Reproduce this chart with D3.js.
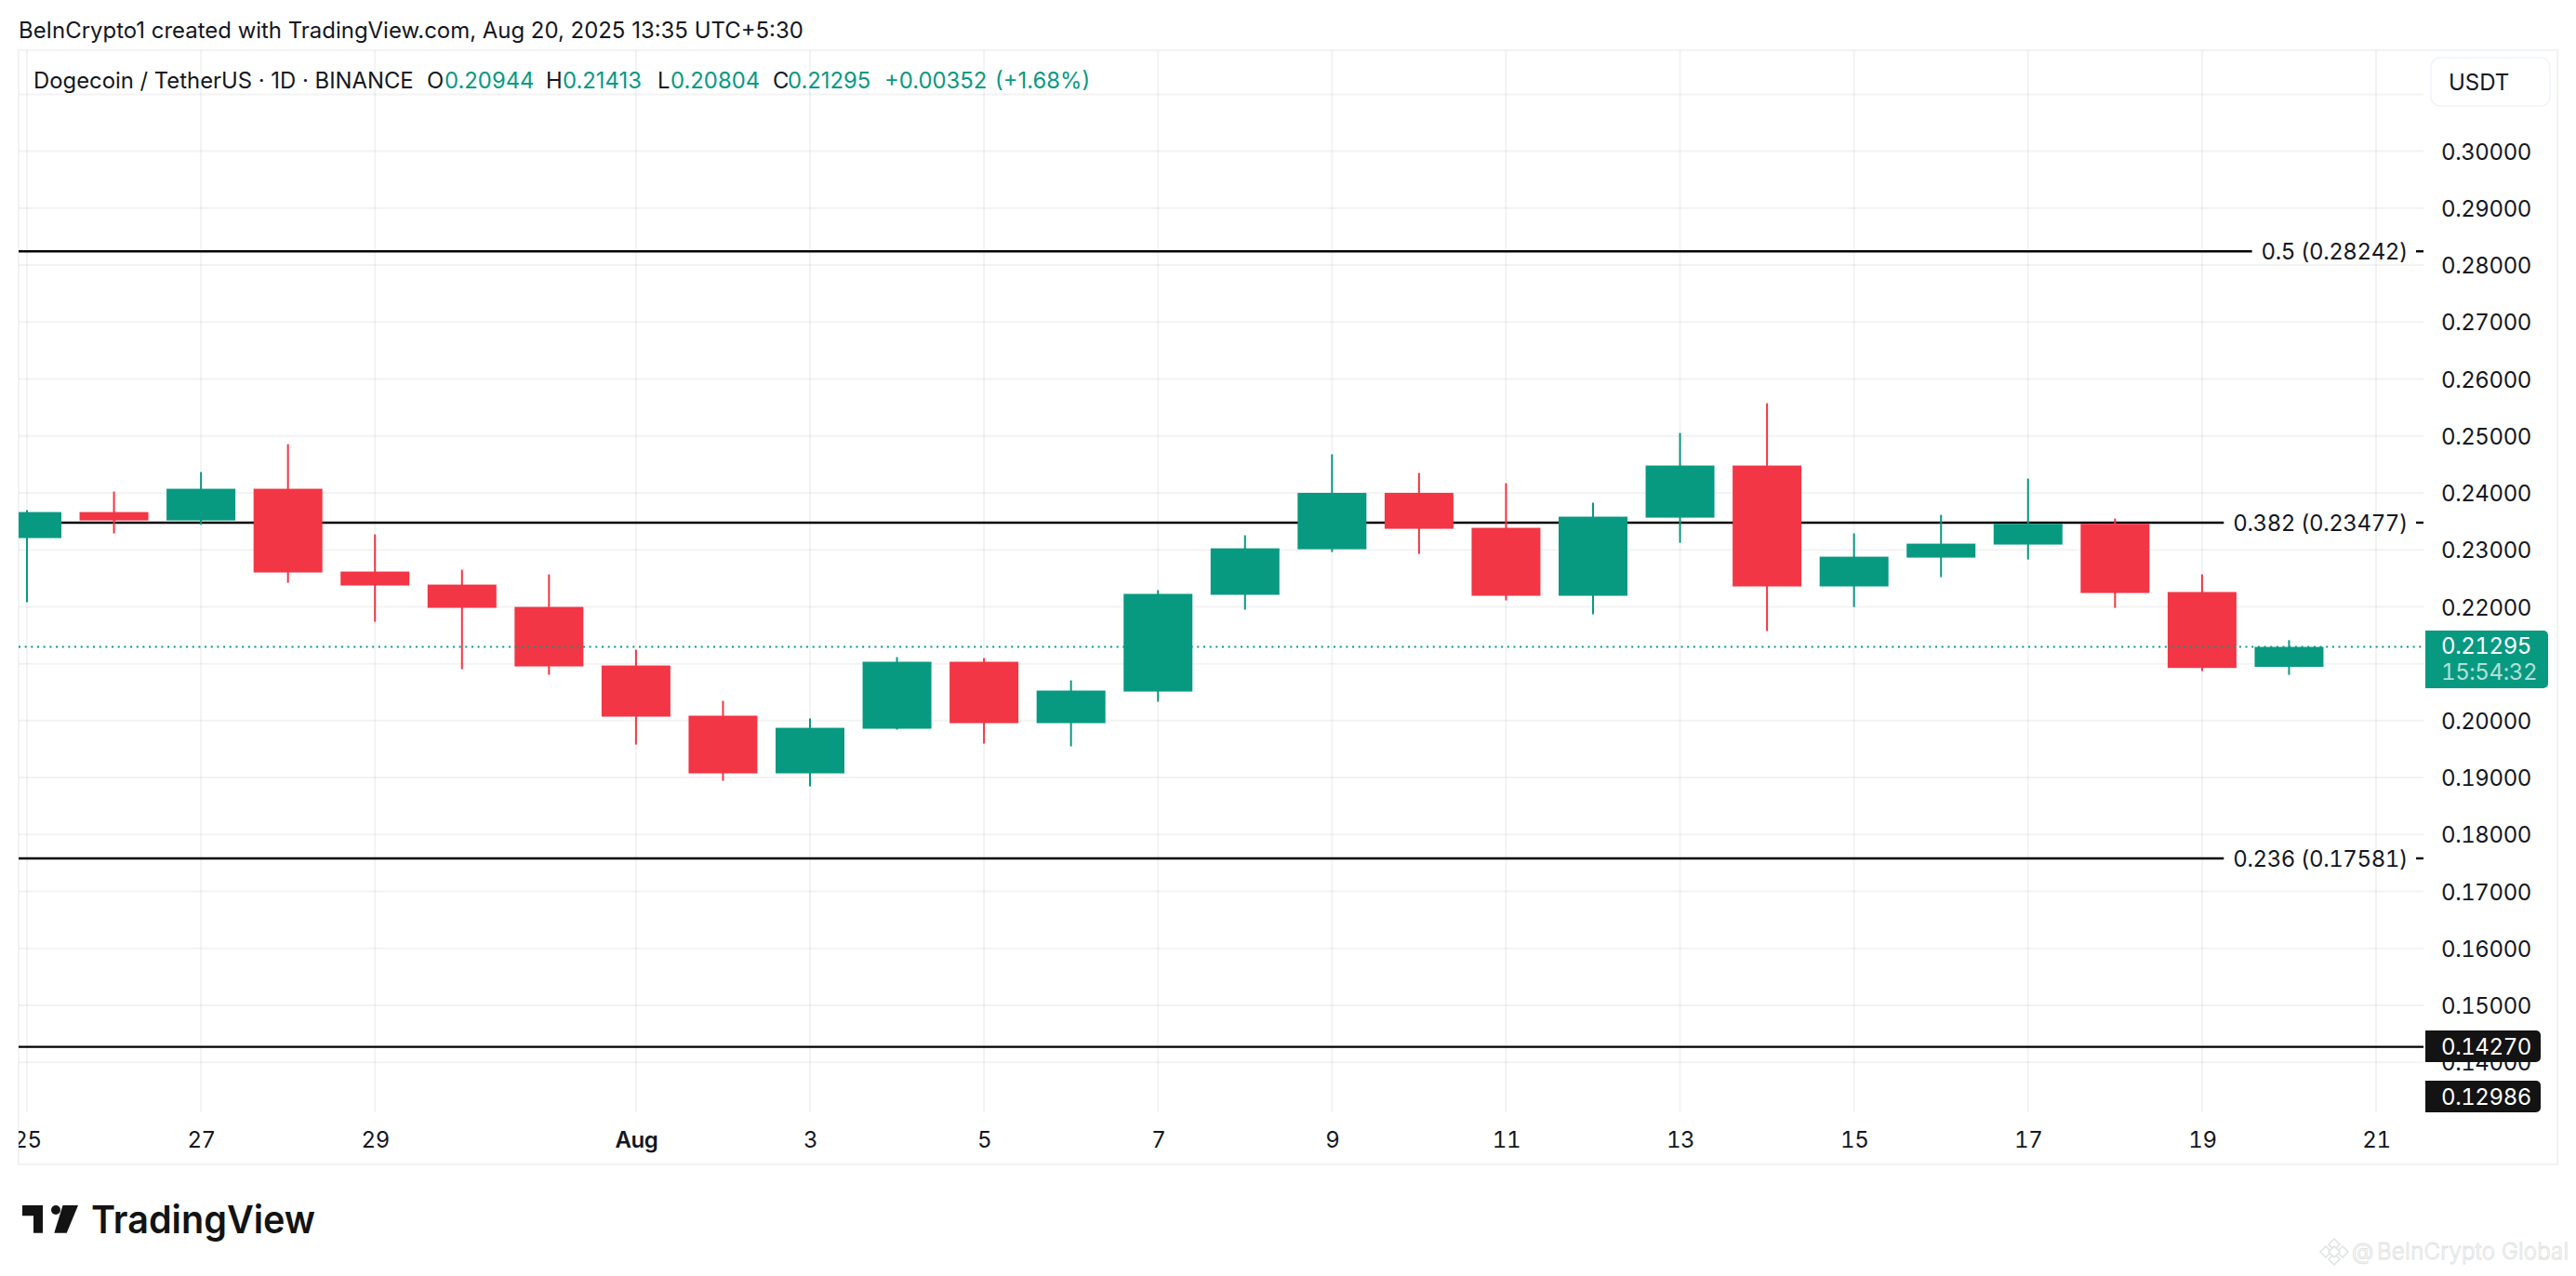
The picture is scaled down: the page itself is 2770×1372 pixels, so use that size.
<!DOCTYPE html>
<html lang="en">

<head>
    <meta charset="UTF-8">
    <title>DOGE / USDT</title>
    <script src="https://cdn.jsdelivr.net/npm/d3@7/dist/d3.min.js"></script>
    <style>
        html, body { margin: 0; padding: 0; background: #fff; }
        svg { display: block; }
        text { font-family: Inter, sans-serif; fill: #131722; }
        .tab { font-variant-numeric: tabular-nums; letter-spacing: -0.4px; }
    </style>
</head>

<body>
    <div id="chart"></div>

    <script>
        // daily candles, Jul 25 -> Aug 20 2025
        const dates = ["2025-07-25", "2025-07-26", "2025-07-27", "2025-07-28", "2025-07-29", "2025-07-30", "2025-07-31",
            "2025-08-01", "2025-08-02", "2025-08-03", "2025-08-04", "2025-08-05", "2025-08-06", "2025-08-07", "2025-08-08",
            "2025-08-09", "2025-08-10", "2025-08-11", "2025-08-12", "2025-08-13", "2025-08-14", "2025-08-15", "2025-08-16",
            "2025-08-17", "2025-08-18", "2025-08-19", "2025-08-20"];
        const opens = [0.23206, 0.23663, 0.23516, 0.24072, 0.22618, 0.22389, 0.21997, 0.20968, 0.20087, 0.19074, 0.19858, 0.21034,
            0.19956, 0.20511, 0.22210, 0.23010, 0.24000, 0.23386, 0.22193, 0.23565, 0.24480, 0.22357, 0.22863, 0.23092, 0.23456,
            0.22259, 0.20944];
        const highs = [0.23696, 0.24023, 0.24366, 0.24855, 0.23271, 0.22651, 0.22569, 0.21246, 0.20348, 0.20038, 0.21115, 0.21099,
            0.20707, 0.22291, 0.23255, 0.24676, 0.24349, 0.24169, 0.23827, 0.25051, 0.25574, 0.23288, 0.23614, 0.24251, 0.23549,
            0.22569, 0.21413];
        const lows = [0.22079, 0.23288, 0.23440, 0.22422, 0.21736, 0.20903, 0.20805, 0.19580, 0.18943, 0.18845, 0.19842, 0.19597,
            0.19548, 0.20332, 0.21948, 0.22961, 0.22928, 0.22112, 0.21867, 0.23124, 0.21573, 0.21997, 0.22520, 0.22830, 0.21981,
            0.20871, 0.20804];
        const closes = [0.23663, 0.23516, 0.24072, 0.22602, 0.22373, 0.21981, 0.20952, 0.20070, 0.19074, 0.19874, 0.21034, 0.19956,
            0.20528, 0.22226, 0.23026, 0.24000, 0.23369, 0.22193, 0.23582, 0.24480, 0.22357, 0.22879, 0.23108, 0.23456, 0.22242,
            0.20925, 0.21295];

        const priceTicks = [0.30, 0.29, 0.28, 0.27, 0.26, 0.25, 0.24, 0.23, 0.22, 0.20, 0.19, 0.18, 0.17, 0.16, 0.15, 0.14];
        const gridPrices = [0.31, 0.30, 0.29, 0.28, 0.27, 0.26, 0.25, 0.24, 0.23, 0.22, 0.21, 0.20, 0.19, 0.18, 0.17, 0.16, 0.15, 0.14];
        const dayTicks = ["2025-07-25", "2025-07-27", "2025-07-29", "2025-08-01", "2025-08-03", "2025-08-05", "2025-08-07",
            "2025-08-09", "2025-08-11", "2025-08-13", "2025-08-15", "2025-08-17", "2025-08-19", "2025-08-21"];

        const fibLevels = [0.28242, 0.23477, 0.17581];
        const fibNames = ["0.5 (0.28242)", "0.382 (0.23477)", "0.236 (0.17581)"];
        const lastPrice = 0.21295;
        const countdown = "15:54:32";
        const supportPrice = 0.14270;
        const bottomPrice = 0.12986;

        const legendParts = [
            ["Dogecoin / TetherUS · 1D · BINANCE", 36, "dark"], ["O", 459, "dark"], ["0.20944", 478, "up"],
            ["H", 587, "dark"], ["0.21413", 605, "up"], ["L", 707, "dark"], ["0.20804", 721, "up"],
            ["C", 831, "dark"], ["0.21295", 847, "up"], ["+0.00352", 951, "up"], ["(+1.68%)", 1070, "up"]
        ];

        const GREEN = "#089981", RED = "#f23645", FRAME = "#f2f3f4", GRID = "rgba(42,46,57,0.06)", INK = "#131722";
        const W = 2770, H = 1372;
        const plot = { left: 20, right: 2606, top: 54, bottom: 1196 };

        const parseDay = d3.utcParse("%Y-%m-%d");
        const x = d3.scaleUtc()
            .domain([parseDay("2025-07-25"), parseDay("2025-08-21")])
            .range([29, 2555]);
        const y = d3.scaleLinear()
            .domain([0.30, 0.14])
            .range([162.6, 1142.2]);

        const svg = d3.select("#chart").append("svg")
            .attr("width", W)
            .attr("height", H);

        svg.append("clipPath").attr("id", "plotClip").append("rect")
            .attr("x", plot.left).attr("y", plot.top)
            .attr("width", plot.right - plot.left).attr("height", plot.bottom - plot.top);
        svg.append("clipPath").attr("id", "axisClip").append("rect")
            .attr("x", plot.left).attr("y", plot.bottom)
            .attr("width", plot.right - plot.left).attr("height", 56);

        // frame
        svg.append("rect")
            .attr("x", 20).attr("y", 54).attr("width", 2730).attr("height", 1198)
            .attr("fill", "none").attr("stroke", FRAME).attr("stroke-width", 2);

        // grid
        const grid = svg.append("g").attr("stroke", GRID).attr("stroke-width", 2);
        grid.selectAll(".h").data(gridPrices).enter().append("line")
            .attr("x1", plot.left).attr("x2", plot.right)
            .attr("y1", d => y(d)).attr("y2", d => y(d));
        grid.selectAll(".v").data(dayTicks).enter().append("line")
            .attr("x1", d => x(parseDay(d))).attr("x2", d => x(parseDay(d)))
            .attr("y1", plot.top).attr("y2", plot.bottom);

        // fib lines, cut where the label sits
        const fibRows = fibLevels.map((level, i) => ({ level, name: fibNames[i] }));
        const fibG = svg.append("g");
        fibRows.forEach(row => {
            const label = fibG.append("text")
                .attr("class", "tab")
                .attr("x", 2589).attr("y", y(row.level))
                .attr("dy", "0.36em")
                .attr("text-anchor", "end")
                .attr("font-size", 24)
                .text(row.name);
            const start = label.node().getBBox().x;
            fibG.append("line").attr("x1", plot.left).attr("x2", start - 10)
                .attr("y1", y(row.level)).attr("y2", y(row.level))
                .attr("stroke", "#000").attr("stroke-width", 2.4);
            fibG.append("line").attr("x1", 2598).attr("x2", plot.right)
                .attr("y1", y(row.level)).attr("y2", y(row.level))
                .attr("stroke", "#000").attr("stroke-width", 2.4);
        });
        fibG.append("line").attr("x1", plot.left).attr("x2", plot.right)
            .attr("y1", y(supportPrice)).attr("y2", y(supportPrice))
            .attr("stroke", "#000").attr("stroke-width", 2.4);

        // candles
        const candles = dates.map((d, i) => ({ date: parseDay(d), o: opens[i], h: highs[i], l: lows[i], c: closes[i] }));
        const bodyWidth = 74;
        const candleG = svg.append("g").attr("clip-path", "url(#plotClip)");
        const candle = candleG.selectAll(".candle").data(candles).enter().append("g").attr("class", "candle");
        candle.append("line")
            .attr("x1", d => x(d.date)).attr("x2", d => x(d.date))
            .attr("y1", d => y(d.h)).attr("y2", d => y(d.l))
            .attr("stroke", d => d.c >= d.o ? GREEN : RED)
            .attr("stroke-width", 2);
        candle.append("rect")
            .attr("x", d => x(d.date) - bodyWidth / 2)
            .attr("width", bodyWidth)
            .attr("y", d => y(Math.max(d.o, d.c)))
            .attr("height", d => y(Math.min(d.o, d.c)) - y(Math.max(d.o, d.c)))
            .attr("fill", d => d.c >= d.o ? GREEN : RED);

        // last price dotted line
        svg.append("line")
            .attr("x1", plot.left).attr("x2", plot.right)
            .attr("y1", y(lastPrice)).attr("y2", y(lastPrice))
            .attr("stroke", GREEN).attr("stroke-width", 2)
            .attr("stroke-dasharray", "2 4.67");

        // price axis
        const yAxis = d3.axisRight(y)
            .tickValues(priceTicks)
            .tickSize(0)
            .tickPadding(0)
            .tickFormat(d3.format(".5f"));
        const yG = svg.append("g")
            .attr("transform", "translate(2625,0)")
            .call(yAxis);
        yG.select(".domain").remove();
        yG.selectAll("text")
            .attr("class", "tab")
            .attr("font-size", 24)
            .attr("dy", "0.36em")
            .attr("font-family", "Inter, sans-serif")
            .attr("fill", INK);

        // time axis, the clip cuts the first label like the chart edge does
        const xAxis = d3.axisBottom(x)
            .tickValues(dayTicks.map(parseDay))
            .tickSize(0)
            .tickPadding(0)
            .tickFormat(d => d.getUTCDate() === 1 ? "Aug" : d3.utcFormat("%-d")(d));
        const xG = svg.append("g")
            .attr("clip-path", "url(#axisClip)")
            .append("g")
            .attr("transform", "translate(0,1217)")
            .call(xAxis);
        xG.select(".domain").remove();
        xG.selectAll("text")
            .attr("class", "tab")
            .attr("font-size", 24)
            .attr("font-family", "Inter, sans-serif")
            .attr("fill", INK)
            .attr("font-weight", d => d.getUTCDate() === 1 ? 600 : 400);

        // price tags
        function tag(top, height, width, fill) {
            svg.append("path")
                .attr("d", `M2608,${top}H${2608 + width - 5}a5,5 0 0 1 5,5V${top + height - 5}a5,5 0 0 1 -5,5H2608Z`)
                .attr("fill", fill);
        }
        function tagText(value, cy, fill) {
            svg.append("text")
                .attr("class", "tab")
                .attr("x", 2625).attr("y", cy).attr("dy", "0.36em")
                .attr("font-size", 24)
                .style("fill", fill)
                .text(value);
        }
        tag(678, 62, 132, GREEN);
        tagText(d3.format(".5f")(lastPrice), 694, "#fff");
        tagText(countdown, 722, "rgba(255,255,255,0.7)");
        tag(1108, 34, 124, "#131313");
        tagText(d3.format(".5f")(supportPrice), 1125, "#fff");
        tag(1162, 34, 124, "#131313");
        tagText(d3.format(".5f")(bottomPrice), 1179, "#fff");

        // currency button
        svg.append("rect")
            .attr("x", 2614).attr("y", 62).attr("width", 128).attr("height", 52).attr("rx", 10)
            .attr("fill", "#fff").attr("stroke", "#f0f3fa").attr("stroke-width", 1.5);
        svg.append("text").attr("x", 2633).attr("y", 88).attr("dy", "0.36em")
            .attr("font-size", 24).text("USDT");

        // header
        svg.append("text").attr("x", 20).attr("y", 32).attr("dy", "0.36em")
            .attr("font-size", 23.95)
            .text("BeInCrypto1 created with TradingView.com, Aug 20, 2025 13:35 UTC+5:30");
        svg.selectAll(".legend").data(legendParts).enter().append("text")
            .attr("class", "legend")
            .attr("x", d => d[1]).attr("y", 86).attr("dy", "0.36em")
            .attr("font-size", 23.85)
            .style("fill", d => d[2] === "up" ? GREEN : INK)
            .text(d => d[0]);

        // logo
        const logo = svg.append("g").attr("fill", "#131313");
        logo.append("path").attr("d", "M24,1296H46V1325.7H36V1307.3H24Z");
        logo.append("circle").attr("cx", 60).attr("cy", 1301).attr("r", 5);
        logo.append("path").attr("d", "M67.5,1296H84L71.7,1325.7H58.3Z");
        svg.append("text").attr("x", 98).attr("y", 1325.7)
            .attr("font-size", 41).attr("font-weight", 600)
            .attr("textLength", 241).attr("lengthAdjust", "spacingAndGlyphs")
            .style("fill", "#131313")
            .text("TradingView");

        // watermark
        const markLine = "#dfe3e2";
        const mark = svg.append("g").attr("fill", "#fff").attr("stroke", markLine).attr("stroke-width", 1.5);
        [[2510, 1338], [2501, 1346], [2519, 1346], [2510, 1354], [2510, 1346]].forEach(([cx, cy]) => {
            mark.append("path").attr("d", `M${cx},${cy - 6}L${cx + 6},${cy}L${cx},${cy + 6}L${cx - 6},${cy}Z`);
        });
        svg.append("text").attr("x", 2529).attr("y", 1354)
            .attr("font-size", 24)
            .attr("stroke", markLine).attr("stroke-width", 1)
            .style("fill", "#fff")
            .text("@");
        svg.append("text").attr("x", 2556).attr("y", 1354)
            .attr("font-size", 24).attr("font-weight", 300)
            .attr("textLength", 206)
            .attr("stroke", markLine).attr("stroke-width", 0.9)
            .style("fill", "#fff")
            .text("BeInCrypto Global");
    </script>
</body>

</html>
